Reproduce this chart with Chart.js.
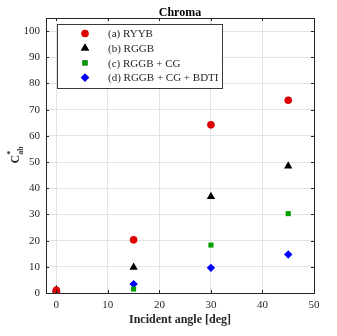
<!DOCTYPE html>
<html>
<head>
<meta charset="utf-8">
<script src="https://cdn.jsdelivr.net/npm/chart.js@4.4.0/dist/chart.umd.min.js"></script>
<style>
  html, body { margin: 0; padding: 0; background: #fff; }
  #wrap { width: 337px; height: 336px; }
</style>
</head>
<body>
<div id="wrap"><canvas id="chart" width="337" height="336"></canvas></div>
<script>
// incident angles [deg]
const angles = [0, 15, 30, 45];

// chroma C*ab per configuration
const ryyb = [1.0, 20.3, 64.2, 73.6];
const rggb = [1.2, 9.8, 36.8, 48.5];
const rggbCg = [1.0, 1.5, 18.3, 30.3];
const rggbCgBdti = [0.7, 3.4, 9.6, 14.7];

const seriesLabels = ['(a) RYYB', '(b) RGGB', '(c) RGGB + CG', '(d) RGGB + CG + BDTI'];

const xTicks = [0, 10, 20, 30, 40, 50];
const yTicks = [0, 10, 20, 30, 40, 50, 60, 70, 80, 90, 100];

const serif = "'Liberation Serif', 'DejaVu Serif', serif";
const axisColor = '#262626';

function points(values) {
  return angles.map((a, i) => ({ x: a, y: values[i] }));
}

// MATLAB style box, inward ticks, title, y label and inner legend
const matlabFrame = {
  id: 'matlabFrame',
  afterDraw(chart) {
    const ctx = chart.ctx;
    const area = chart.chartArea;
    const xs = chart.scales.x;
    const ys = chart.scales.y;

    ctx.save();
    ctx.strokeStyle = axisColor;
    ctx.lineWidth = 1;

    // inward tick marks on all four sides
    ctx.beginPath();
    xTicks.forEach(t => {
      const px = Math.round(xs.getPixelForValue(t)) + 0.5;
      ctx.moveTo(px, area.bottom); ctx.lineTo(px, area.bottom - 3);
      ctx.moveTo(px, area.top); ctx.lineTo(px, area.top + 3);
    });
    yTicks.forEach(t => {
      const py = Math.round(ys.getPixelForValue(t)) + 0.5;
      ctx.moveTo(area.left, py); ctx.lineTo(area.left + 3, py);
      ctx.moveTo(area.right, py); ctx.lineTo(area.right - 3, py);
    });
    ctx.stroke();

    ctx.strokeRect(Math.round(area.left) + 0.5, Math.round(area.top) + 0.5,
      Math.round(area.right - area.left), Math.round(area.bottom - area.top));

    // title
    ctx.fillStyle = '#000';
    ctx.font = 'bold 12px ' + serif;
    ctx.textAlign = 'center';
    ctx.textBaseline = 'alphabetic';
    ctx.fillText('Chroma', (area.left + area.right) / 2, 16);

    // y label C*ab, rotated
    ctx.save();
    ctx.translate(19, (area.top + area.bottom) / 2);
    ctx.rotate(-Math.PI / 2);
    ctx.font = 'bold 12px ' + serif;
    ctx.fillStyle = axisColor;
    ctx.textAlign = 'left';
    const cw = ctx.measureText('C').width;
    ctx.fillText('C', -8, 0);
    ctx.font = 'bold 8px ' + serif;
    ctx.fillText('*', -8 + cw, -6);
    ctx.fillText('ab', -8 + cw, 4);
    ctx.restore();

    // legend box
    const lx = 57.5, ly = 24.5, lw = 165, lh = 64;
    ctx.fillStyle = '#fff';
    ctx.fillRect(lx, ly, lw, lh);
    ctx.strokeStyle = '#3a3a3a';
    ctx.strokeRect(lx, ly, lw, lh);
    ctx.font = '11px ' + serif;
    ctx.textAlign = 'left';
    ctx.textBaseline = 'middle';
    chart.data.datasets.forEach((ds, i) => {
      const cy = ly + 9 + i * 14.7;
      Chart.helpers.drawPoint(ctx, {
        pointStyle: ds.pointStyle,
        radius: ds.pointRadius,
        borderWidth: 0
      }, 85, cy);
      ctx.fillStyle = ds.backgroundColor;
      ctx.fill();
      ctx.fillStyle = axisColor;
      ctx.fillText(seriesLabels[i], 108, cy + 1);
    });
    ctx.restore();
  }
};

const commonDs = { showLine: false, borderWidth: 0 };

new Chart(document.getElementById('chart'), {
  type: 'scatter',
  data: {
    datasets: [
      { ...commonDs, label: seriesLabels[0], data: points(ryyb), pointStyle: 'circle', pointRadius: 3.8, backgroundColor: '#dd0000', borderColor: '#dd0000' },
      { ...commonDs, label: seriesLabels[1], data: points(rggb), pointStyle: 'triangle', pointRadius: 4.8, backgroundColor: '#000000', borderColor: '#000000' },
      { ...commonDs, label: seriesLabels[2], data: points(rggbCg), pointStyle: 'rect', pointRadius: 3.6, backgroundColor: '#00a000', borderColor: '#00a000' },
      { ...commonDs, label: seriesLabels[3], data: points(rggbCgBdti), pointStyle: 'rectRot', pointRadius: 4.2, backgroundColor: '#0000ff', borderColor: '#0000ff' }
    ]
  },
  options: {
    responsive: false,
    animation: false,
    layout: { padding: { top: 18, right: 23, left: 0, bottom: 0 } },
    scales: {
      x: {
        type: 'linear',
        min: -2,
        max: 50,
        afterBuildTicks: axis => { axis.ticks = xTicks.map(v => ({ value: v })); },
        afterFit: axis => { axis.height = 43; },
        grid: { color: '#e3e3e3', drawTicks: false },
        border: { display: false },
        ticks: { color: axisColor, padding: 6, font: { family: serif, size: 11 } },
        title: { display: true, text: 'Incident angle [deg]', color: axisColor, padding: { top: 2, bottom: 9 }, font: { family: serif, size: 12, weight: 'bold' } }
      },
      y: {
        type: 'linear',
        min: 0,
        max: 105,
        afterBuildTicks: axis => { axis.ticks = yTicks.map(v => ({ value: v })); },
        afterFit: axis => { axis.width = 46; },
        grid: { color: '#e3e3e3', drawTicks: false },
        border: { display: false },
        ticks: { color: axisColor, padding: 6, font: { family: serif, size: 11 } }
      }
    },
    plugins: {
      legend: { display: false },
      title: { display: false },
      tooltip: { enabled: false }
    }
  },
  plugins: [matlabFrame]
});
</script>
</body>
</html>
